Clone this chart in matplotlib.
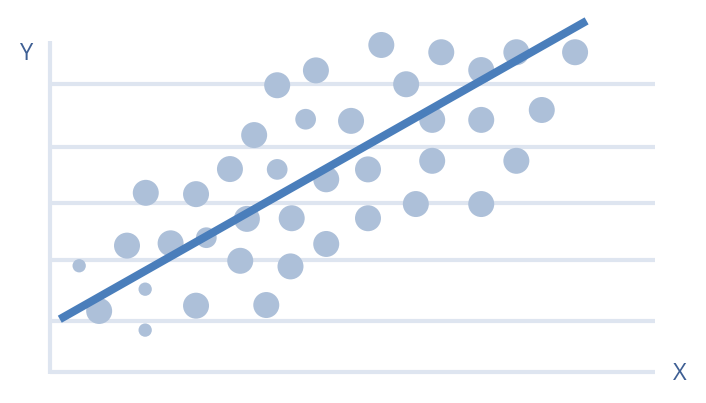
import matplotlib
matplotlib.use("Agg")
import matplotlib.pyplot as plt
import numpy as np

# Data (arbitrary units)
x_vals = [4.9, 8.2, 15.8, 15.8, 12.8, 15.9, 20.0, 24.2, 25.9, 24.2,
          29.8, 33.8, 32.6, 31.5, 35.8, 37.6, 37.6, 40.0, 39.8, 44.0,
          42.3, 45.7, 45.7, 49.8, 54.8, 64.7, 58.9, 71.3, 77.1, 86.8,
          63.2, 71.3, 81.3, 52.6, 63.2, 77.1, 52.6, 60.5, 71.3]
y_vals = [32.2, 18.5, 25.1, 12.7, 38.3, 54.3, 39.0, 53.9, 40.7, 20.1,
          61.5, 71.8, 46.4, 33.7, 20.3, 86.9, 61.4, 46.6, 32.0, 91.4,
          76.6, 58.4, 38.8, 76.1, 99.1, 96.9, 87.2, 91.5, 96.9, 96.9,
          76.4, 76.4, 79.4, 61.4, 64.0, 64.0, 46.6, 50.9, 50.9]
weights = [1, 3, 1, 1, 3, 3, 3, 3, 2, 3,
           3, 3, 3, 3, 3, 3, 2, 3, 3, 3,
           2, 3, 3, 3, 3, 3, 3, 3, 3, 3,
           3, 3, 3, 3, 3, 3, 3, 3, 3]
trend_x = [1.7, 88.7]
trend_y = [16.0, 106.4]
grid_levels = [15.5, 33.9, 51.1, 68.3, 87.3]
x_label = "X"
y_label = "Y"

size_map = {1: 92, 2: 222, 3: 350}

fig = plt.figure(figsize=(7.06, 4.03), dpi=100)
ax = fig.add_axes([0, 0, 1, 1])
ax.set_xlim(-8.175, 108.42)
ax.set_ylim(-9.39, 112.73)
ax.axis("off")

grid_c = "#dee5f0"
x_end = 100.0
for g in grid_levels:
    ax.plot([0, x_end], [g, g], color=grid_c, lw=3.0, solid_capstyle="butt", zorder=1)
ax.plot([0, x_end], [0, 0], color=grid_c, lw=3.0, solid_capstyle="butt", zorder=1)
ax.plot([0, 0], [-0.6, 100.3], color=grid_c, lw=3.0, solid_capstyle="butt", zorder=1)

ax.scatter(x_vals, y_vals, s=[size_map[w] for w in weights], color="#adc0d9",
           edgecolors="none", zorder=2)
ax.plot(trend_x, trend_y, color="#4a7ebb", lw=5.8, solid_capstyle="butt", zorder=3)

txt_c = "#3e5f94"
ax.text(-3.7, 96.3, y_label, fontsize=17, color=txt_c, family="Open Sans",
        ha="center", va="center")
ax.text(104.1, -0.5, x_label, fontsize=17, color=txt_c, family="Open Sans",
        ha="center", va="center")

fig.savefig("out.png", dpi=100)
